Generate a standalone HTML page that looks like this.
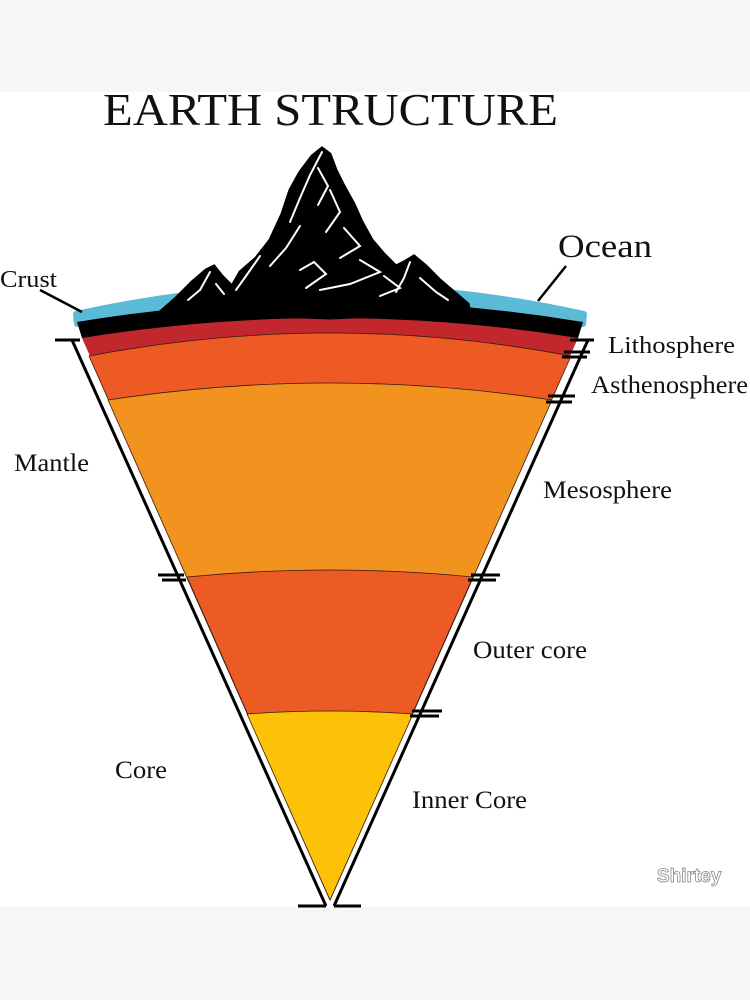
<!DOCTYPE html>
<html><head><style>
html,body{margin:0;padding:0;background:#f6f6f6;}
svg{display:block;}
text{font-family:"Liberation Serif",serif;fill:#111;}
</style></head><body>
<svg width="750" height="1000" viewBox="0 0 750 1000" xmlns="http://www.w3.org/2000/svg">
<rect x="0" y="0" width="750" height="1000" fill="#f6f6f6"/>
<rect x="0" y="92" width="750" height="815" fill="#fff"/>
<text x="103" y="125" font-size="46" textLength="455" lengthAdjust="spacingAndGlyphs">EARTH STRUCTURE</text>

<g stroke-linejoin="round">
<path d="M76,314 Q330,258 584,314 L583,324 Q330,276 77,324 Z" fill="#5bbad6" stroke="#5bbad6" stroke-width="6"/>
<path d="M77,322 Q330,280 583,322 L578,338 L82,338 Z" fill="#000"/>
<path d="M82,338 Q330,298 578,338 L330,900 Z" fill="#c1272d"/>
<path d="M89,356 Q330,310 571,356 L330,900 Z" fill="#ee5a24" stroke="#3a1a10" stroke-width="0.8"/>
<path d="M108,400 Q330,366 552,400 L330,900 Z" fill="#f2921f" stroke="#3a1a10" stroke-width="0.8"/>
<path d="M187,577 Q330,563 473,577 L330,900 Z" fill="#ec5b24" stroke="#3a1a10" stroke-width="0.8"/>
<path d="M247,714 Q330,708 413,714 L330,900 Z" fill="#fbc208" stroke="#3a1a10" stroke-width="0.8"/>
</g>

<g>
<path d="M160,312 L176,298 L192,282 L206,270 L214,266 L222,276 L232,286 L240,272 L256,258 L270,240 L282,214 L290,190 L300,172 L312,156 L322,148 L330,154 L336,170 L344,186 L354,204 L362,222 L372,240 L384,254 L396,266 L404,262 L414,256 L426,266 L440,280 L454,292 L468,304 L470,312 L330,318 Z" fill="#000" stroke="#000" stroke-width="3"/>
<g stroke="#fff" stroke-width="2" fill="none" stroke-linecap="round">
<path d="M322,152 L310,175 L300,198 L290,222"/>
<path d="M318,168 L328,186 L318,205"/>
<path d="M330,190 L340,212 L326,232"/>
<path d="M344,228 L360,246 L340,258"/>
<path d="M300,226 L286,248 L270,266"/>
<path d="M260,256 L246,276 L236,290"/>
<path d="M210,272 L200,290 L188,300"/>
<path d="M216,284 L224,294"/>
<path d="M360,260 L380,272 L350,284 L320,290"/>
<path d="M384,276 L400,288 L380,296"/>
<path d="M410,262 L404,278 L396,292"/>
<path d="M420,278 L436,292 L448,300"/>
<path d="M300,270 L314,262 L326,274 L306,288"/>
</g>
</g>

<g stroke="#000" stroke-width="3" fill="none">
<path d="M72,340 L326,906"/>
<path d="M588,340 L334,906"/>
<path d="M55,340 H80"/>
<path d="M158,575 H184 M162,580 H186"/>
<path d="M298,906 H326 M334,906 H361"/>
<path d="M570,340 H594"/>
<path d="M564,352 H590 M562,357 H587"/>
<path d="M548,396 H575 M546,402 H572"/>
<path d="M471,575 H500 M468,580 H496"/>
<path d="M412,711 H442 M410,716 H439"/>
</g>
<g stroke="#000" stroke-width="2.5">
<line x1="40" y1="290" x2="82" y2="312"/>
<line x1="566" y1="266" x2="538" y2="301"/>
</g>

<text x="0" y="287" font-size="24" textLength="57" lengthAdjust="spacingAndGlyphs">Crust</text>
<text x="558" y="257" font-size="33" textLength="94" lengthAdjust="spacingAndGlyphs">Ocean</text>
<text x="608" y="353" font-size="24" textLength="127" lengthAdjust="spacingAndGlyphs">Lithosphere</text>
<text x="591" y="393" font-size="25" textLength="157" lengthAdjust="spacingAndGlyphs">Asthenosphere</text>
<text x="14" y="471" font-size="25" textLength="75" lengthAdjust="spacingAndGlyphs">Mantle</text>
<text x="543" y="498" font-size="25" textLength="129" lengthAdjust="spacingAndGlyphs">Mesosphere</text>
<text x="473" y="658" font-size="25" textLength="114" lengthAdjust="spacingAndGlyphs">Outer core</text>
<text x="115" y="778" font-size="25" textLength="52" lengthAdjust="spacingAndGlyphs">Core</text>
<text x="412" y="808" font-size="25" textLength="115" lengthAdjust="spacingAndGlyphs">Inner Core</text>
<text x="657" y="882" font-size="19" style="fill:#fff;stroke:#888;stroke-width:0.8;font-family:'Liberation Sans',sans-serif;font-weight:bold">Shirtey</text>
</svg>
</body></html>
